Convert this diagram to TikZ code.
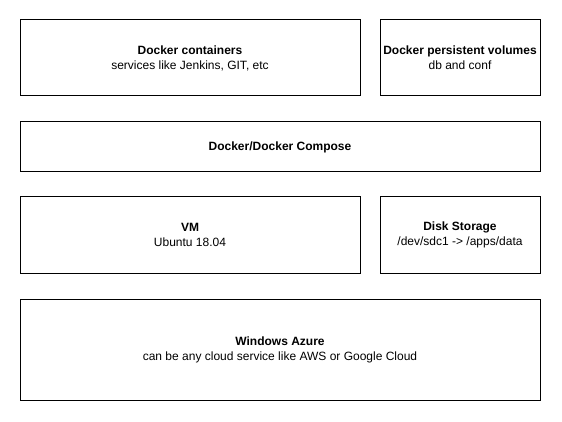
\documentclass[tikz,border=0pt]{standalone}
\usepackage{fontspec}
\setmainfont{Liberation Sans}
\begin{document}
\begin{tikzpicture}[x=1pt,y=-1pt,
  blk/.style={draw=black, line width=1pt, fill=white, inner sep=0pt, align=center,
    font=\fontsize{12}{15}\selectfont}]
\useasboundingbox[fill=white] (0,0) rectangle (562,422);
\node[blk, minimum width=340pt, minimum height=76pt] (containers) at (190,58)
  {\textbf{Docker containers}\\services like Jenkins, GIT, etc};
\node[blk, minimum width=160pt, minimum height=76pt] (volumes) at (460,58)
  {\textbf{Docker persistent volumes}\\db and conf};
\node[blk, minimum width=520pt, minimum height=50pt] (compose) at (280,147)
  {\textbf{Docker/Docker Compose}};
\node[blk, minimum width=340pt, minimum height=76pt] (vm) at (190,235)
  {\textbf{VM}\\Ubuntu 18.04};
\node[blk, minimum width=160pt, minimum height=76pt] (disk) at (460,235)
  {\textbf{Disk Storage}\\/dev/sdc1 -> /apps/data};
\node[blk, minimum width=520pt, minimum height=101pt] (azure) at (280,349.5)
  {\textbf{Windows Azure}\\can be any cloud service like AWS or Google Cloud};
\end{tikzpicture}
\end{document}
